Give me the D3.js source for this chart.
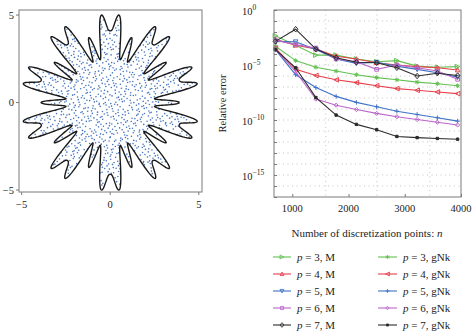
<!DOCTYPE html>
<html><head><meta charset="utf-8">
<script src="https://cdn.jsdelivr.net/npm/d3@7"></script>
<style>
body{margin:0;background:#fff}
svg{display:block}
text{font-family:"Liberation Serif","DejaVu Serif",serif;fill:#222}
</style>
</head><body>
<svg id="c" width="474" height="332"></svg>
<script>
// ---------------- data ----------------
const nValues = [700, 1060, 1420, 1780, 2140, 2500, 2860, 3220, 3580, 3940];
const errP3M   = [4.5e-3, 6.3e-4, 7.9e-5, 7.9e-5, 3.5e-5, 2.0e-5, 2.5e-5, 7.9e-6, 6.3e-6, 7.1e-6];
const errP4M   = [2.2e-3, 6.3e-4, 2.8e-4, 6.3e-5, 3.5e-5, 1.6e-5, 1.0e-5, 7.1e-6, 5.6e-6, 3.5e-6];
const errP5M   = [1.4e-3, 1.3e-3, 2.5e-4, 3.5e-5, 1.4e-5, 1.8e-5, 7.9e-6, 4.0e-6, 2.0e-6, 7.9e-7];
const errP6M   = [1.8e-3, 7.1e-4, 3.5e-4, 3.5e-5, 2.0e-5, 4.0e-6, 1.0e-5, 5.6e-6, 2.8e-6, 5.0e-7];
const errP7M   = [1.4e-3, 1.8e-2, 2.8e-4, 4.5e-5, 1.8e-5, 1.6e-5, 5.6e-6, 1.0e-6, 1.8e-6, 1.1e-6];
const errP3gNk = [5.0e-4, 2.5e-5, 6.3e-6, 2.8e-6, 1.3e-6, 7.1e-7, 4.5e-7, 2.8e-7, 2.0e-7, 1.3e-7];
const errP4gNk = [3.5e-4, 4.0e-6, 1.1e-6, 4.5e-7, 2.5e-7, 1.3e-7, 7.1e-8, 5.0e-8, 3.5e-8, 2.5e-8];
const errP5gNk = [2.5e-4, 1.3e-6, 8.9e-8, 1.4e-8, 4.0e-9, 1.6e-9, 6.3e-10, 3.2e-10, 1.6e-10, 7.9e-11];
const errP6gNk = [2.8e-4, 2.5e-6, 7.9e-9, 2.2e-9, 8.9e-10, 4.0e-10, 2.0e-10, 1.1e-10, 6.3e-11, 3.5e-11];
const errP7gNk = [2.5e-4, 5.6e-6, 1.1e-8, 2.8e-10, 4.0e-11, 1.3e-11, 3.2e-12, 2.5e-12, 2.1e-12, 1.8e-12];
const seriesLabels = ["p = 3, M","p = 4, M","p = 5, M","p = 6, M","p = 7, M",
                      "p = 3, gNk","p = 4, gNk","p = 5, gNk","p = 6, gNk","p = 7, gNk"];
const xTicksRight = [1000, 2000, 3000, 4000];
const yTickExps = [0, -5, -10, -15];
const xGridRight = [1595, 2505, 3445];
const domainTicks = [-5, 0, 5];
// boundary of the domain: r(phi) = a0 + a1 cos(10 phi) + (b0 + b1 cos(10 phi)) * petal(30 phi)
const shapeCoef = {a0: 3.867, a1: 0.867, b0: 0.767, b1: -0.133, sharp: 1.3};

// ---------------- setup ----------------
const svg = d3.select("#c");
const FONT = 10.5;

// ============ left: domain plot ============
const L = {x0: 19, x1: 202, y0: 10, y1: 192};
const lx = d3.scaleLinear().domain([-5.15, 5.18]).range([L.x0, L.x1]);
const ly = d3.scaleLinear().domain([-5.11, 5.29]).range([L.y1, L.y0]);

function rad(theta) {
  const phi = theta - Math.PI / 2;
  const c10 = Math.cos(10 * phi);
  const f = -Math.cos(30 * phi);
  const g = 2 * Math.pow((1 + f) / 2, shapeCoef.sharp) - 1;
  return shapeCoef.a0 + shapeCoef.a1 * c10 + (shapeCoef.b0 + shapeCoef.b1 * c10) * g;
}
// Halton interior nodes (deterministic quasi-uniform node set)
function halton(i, b) { let f = 1, r = 0; while (i > 0) { f /= b; r += f * (i % b); i = Math.floor(i / b); } return r; }
const nodes = [];
for (let i = 1; i <= 2100; i++) {
  const x = -5 + 10 * halton(i, 2), y = -5 + 10 * halton(i, 3);
  const th = Math.atan2(y, x), rr = Math.hypot(x, y);
  if (rr < rad(th) - 0.06) nodes.push([x, y]);
}
const gL = svg.append("g");
gL.append("g").selectAll("circle").data(nodes).join("circle")
  .attr("cx", d => lx(d[0])).attr("cy", d => ly(d[1])).attr("r", 0.8)
  .attr("fill", "#4677c0");
const bnd = d3.range(0, 1441).map(k => { const t = k / 1440 * 2 * Math.PI; const r = rad(t); return [r * Math.cos(t), r * Math.sin(t)]; });
gL.append("path").attr("d", d3.line().x(d => lx(d[0])).y(d => ly(d[1]))(bnd))
  .attr("fill", "none").attr("stroke", "#1a1a1a").attr("stroke-width", 1.4);
gL.append("rect").attr("x", L.x0).attr("y", L.y0).attr("width", L.x1 - L.x0).attr("height", L.y1 - L.y0)
  .attr("fill", "none").attr("stroke", "#7a7a7a").attr("stroke-width", 1);
domainTicks.forEach(t => {
  gL.append("line").attr("x1", lx(t)).attr("x2", lx(t)).attr("y1", L.y1).attr("y2", L.y1 + 3).attr("stroke", "#7a7a7a");
  gL.append("text").attr("x", lx(t)).attr("y", 208).attr("text-anchor", "middle").attr("font-size", FONT).text(t < 0 ? "\u2212" + Math.abs(t) : t);
  gL.append("line").attr("x1", L.x0 - 3).attr("x2", L.x0).attr("y1", ly(t)).attr("y2", ly(t)).attr("stroke", "#7a7a7a");
  gL.append("text").attr("x", 14).attr("y", ly(t) + 3.5).attr("text-anchor", "end").attr("font-size", FONT).text(t < 0 ? "\u2212" + Math.abs(t) : t);
});

// ============ right: error plot ============
const R = {x0: 274, x1: 461, y0: 10, y1: 197};
const rx = d3.scaleLinear().domain([675, 4000]).range([R.x0, R.x1]);
const ry = d3.scaleLog().domain([1e-17, 1]).range([R.y1, R.y0]);
const gR = svg.append("g");
// grid
d3.range(-16, 0).forEach(e => {
  gR.append("line").attr("x1", R.x0).attr("x2", R.x1).attr("y1", ry(Math.pow(10, e))).attr("y2", ry(Math.pow(10, e)))
    .attr("stroke", "#b5b5b5").attr("stroke-width", 0.8).attr("stroke-dasharray", "1,3.5");
});
xGridRight.forEach(v => {
  gR.append("line").attr("x1", rx(v)).attr("x2", rx(v)).attr("y1", R.y0).attr("y2", R.y1)
    .attr("stroke", "#b5b5b5").attr("stroke-width", 0.8).attr("stroke-dasharray", "1,3.5");
});
// axes ticks
const yAxis = d3.axisLeft(ry).tickValues(d3.range(-17, 1).map(e => Math.pow(10, e))).tickSize(-3).tickFormat("");
gR.append("g").attr("transform", `translate(${R.x0},0)`).call(yAxis)
  .call(g => g.select(".domain").remove()).selectAll("line").attr("stroke", "#7a7a7a");
const xAxis = d3.axisBottom(rx).tickValues(xTicksRight).tickSize(-3).tickFormat("");
gR.append("g").attr("transform", `translate(0,${R.y1})`).call(xAxis)
  .call(g => g.select(".domain").remove()).selectAll("line").attr("stroke", "#7a7a7a");
xTicksRight.forEach(v => gR.append("text").attr("x", rx(v)).attr("y", 212).attr("text-anchor", "middle").attr("font-size", FONT).text(v));
yTickExps.forEach(e => {
  const t = gR.append("text").attr("x", 242).attr("y", ry(Math.pow(10, e)) + 5).attr("font-size", FONT);
  t.append("tspan").text("10");
  t.append("tspan").attr("dy", -5).attr("font-size", 7.5).text(e < 0 ? "\u2212" + Math.abs(e) : e);
});
gR.append("text").attr("transform", `translate(226,${(R.y0 + R.y1) / 2}) rotate(-90)`).attr("text-anchor", "middle")
  .attr("font-size", FONT).text("Relative error");

// markers
const s = 2.3;
const mk = {
  triR: `M${-s},${-s}L${s},0L${-s},${s}Z`,
  triU: `M0,${-s}L${s},${s * 0.8}L${-s},${s * 0.8}Z`,
  triD: `M0,${s}L${s},${-s * 0.8}L${-s},${-s * 0.8}Z`,
  square: `M${-s * 0.8},${-s * 0.8}H${s * 0.8}V${s * 0.8}H${-s * 0.8}Z`,
  diamond: `M0,${-s * 1.2}L${s},0L0,${s * 1.2}L${-s},0Z`,
  star: `M${-s},0H${s}M0,${-s}V${s}M${-s * .7},${-s * .7}L${s * .7},${s * .7}M${-s * .7},${s * .7}L${s * .7},${-s * .7}`,
  triL: `M${s},${-s}L${-s},0L${s},${s}Z`,
  plus: `M${-s},0H${s}M0,${-s}V${s}`,
  sdiamond: `M0,${-s * 0.9}L${s * 0.9},0L0,${s * 0.9}L${-s * 0.9},0Z`,
  xsq: `M-1.2,-1.2H1.2V1.2H-1.2Z`
};
const colors = {g: "#62c150", r: "#e6404c", b: "#3f72c6", p: "#bb66ca", k: "#2b2b2b"};
const series = [
  {lab: seriesLabels[0], v: errP3M, c: colors.g, m: "triR", fill: false},
  {lab: seriesLabels[1], v: errP4M, c: colors.r, m: "triU", fill: false},
  {lab: seriesLabels[2], v: errP5M, c: colors.b, m: "triD", fill: false},
  {lab: seriesLabels[3], v: errP6M, c: colors.p, m: "square", fill: false},
  {lab: seriesLabels[4], v: errP7M, c: colors.k, m: "diamond", fill: false},
  {lab: seriesLabels[5], v: errP3gNk, c: colors.g, m: "star", fill: false},
  {lab: seriesLabels[6], v: errP4gNk, c: colors.r, m: "triL", fill: false},
  {lab: seriesLabels[7], v: errP5gNk, c: colors.b, m: "plus", fill: false},
  {lab: seriesLabels[8], v: errP6gNk, c: colors.p, m: "sdiamond", fill: false},
  {lab: seriesLabels[9], v: errP7gNk, c: colors.k, m: "xsq", fill: true}
];
const line = d3.line().x((d, i) => rx(nValues[i])).y(d => ry(d));
const drawOrder = [5, 6, 7, 8, 9, 0, 1, 2, 3, 4];
const gS = gR.append("g");
drawOrder.forEach(k => {
  const S = series[k];
  gS.append("path").attr("d", line(S.v)).attr("fill", "none").attr("stroke", S.c).attr("stroke-width", 1.1);
  gS.append("g").selectAll("path").data(S.v).join("path")
    .attr("transform", (d, i) => `translate(${rx(nValues[i])},${ry(d)})`)
    .attr("d", mk[S.m]).attr("fill", S.fill ? S.c : "none").attr("stroke", S.c).attr("stroke-width", 1);
});
gR.append("rect").attr("x", R.x0).attr("y", R.y0).attr("width", R.x1 - R.x0).attr("height", R.y1 - R.y0)
  .attr("fill", "none").attr("stroke", "#7a7a7a").attr("stroke-width", 1);

// x title
const xt = svg.append("text").attr("x", 367).attr("y", 237).attr("text-anchor", "middle").attr("font-size", 11);
xt.append("tspan").text("Number of discretization points: ");
xt.append("tspan").attr("font-style", "italic").text("n");

// legend
const rowsY = [257, 274, 291, 308, 325];
series.forEach((S, k) => {
  const col = k < 5 ? 0 : 1, row = k % 5;
  const lx0 = col === 0 ? 273 : 378, lx1 = col === 0 ? 291 : 397, tx = col === 0 ? 297 : 403;
  const y = rowsY[row];
  const g = svg.append("g");
  g.append("line").attr("x1", lx0).attr("x2", lx1).attr("y1", y).attr("y2", y).attr("stroke", S.c).attr("stroke-width", 1.1);
  g.append("path").attr("transform", `translate(${(lx0 + lx1) / 2},${y}) scale(0.85)`).attr("d", mk[S.m])
    .attr("fill", S.fill ? S.c : "none").attr("stroke", S.c).attr("stroke-width", 1);
  const parts = S.lab.split(" = ");
  const t = g.append("text").attr("x", tx).attr("y", y + 4).attr("font-size", 11);
  t.append("tspan").attr("font-style", "italic").text(parts[0]);
  t.append("tspan").text(" = " + parts[1]);
});
</script>
</body></html>
